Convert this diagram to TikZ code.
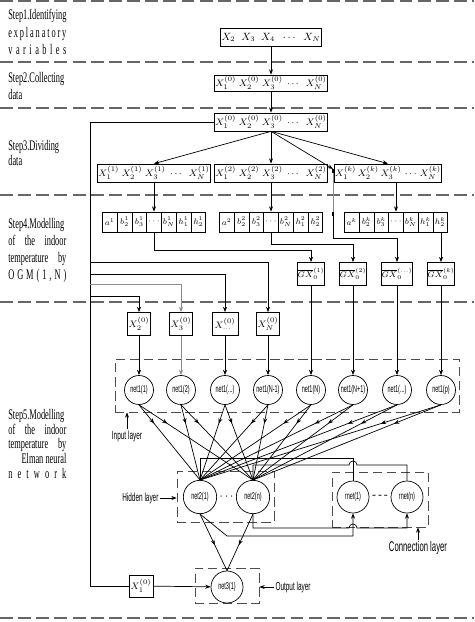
\documentclass[tikz,border=0pt]{standalone}
\usepackage{fontspec}
\setmainfont{Liberation Serif}
\newfontfamily\stepfont[FakeStretch=0.57]{Liberation Serif}
\newfontfamily\netfont[FakeStretch=0.55]{Liberation Sans}
\usepackage{tikz}
\usetikzlibrary{arrows.meta, positioning, shapes.multipart, decorations.markings, calc}

\newcommand{\spreadline}[1]{\makebox[1.74cm][s]{#1}}
\newcommand{\cellentry}[1]{\makebox[9pt]{$#1$}}

\begin{document}
\begin{tikzpicture}[
    x=0.03cm, y=-0.03cm, line width=0.6pt,
    divider/.style={line width=1.3pt, black!60, dash pattern=on 11pt off 4.5pt},
    steplabel/.style={anchor=north west, inner sep=0pt, align=left, font=\stepfont\fontsize{12.5}{14.5}\selectfont},
    databox/.style={rectangle, draw, minimum width=3.03cm, minimum height=0.54cm, inner sep=1pt, font=\footnotesize},
    cellbox/.style={rectangle split, rectangle split horizontal, rectangle split parts=7, draw, minimum height=0.6cm, inner xsep=1.5pt, inner ysep=1pt, font=\scriptsize},
    gxbox/.style={rectangle, draw, minimum width=0.68cm, minimum height=0.69cm, inner sep=0pt, font=\scriptsize},
    xbox/.style={rectangle, draw, minimum width=0.7cm, minimum height=0.69cm, inner sep=0pt, font=\footnotesize},
    dotmark/.style={rectangle, fill=black, minimum width=0.07cm, minimum height=0.1cm, inner sep=0pt},
    neuron/.style={circle, draw, minimum size=0.87cm, inner sep=0pt, font=\netfont\fontsize{8.5}{9}\selectfont},
    layer/.style={rectangle, draw=black!70, dash pattern=on 8pt off 4pt},
    layerlabel/.style={font=\netfont\fontsize{10}{10}\selectfont, inner sep=1pt},
    arrow/.style={-{Stealth[length=1.6mm, width=1.2mm]}},
    midarrow/.style={postaction={decorate}, decoration={markings, mark=at position #1 with {\arrow{Stealth[length=1.6mm, width=1.2mm]}}}},
    faint/.style={black!45}
]
\useasboundingbox (0,0) rectangle (474,622);

% Step dividers
\draw[divider, line width=2pt] (0,1) -- (474,1);
\draw[divider] (0,62) -- (474,62);
\draw[divider] (0,108) -- (474,108);
\draw[divider] (0,195) -- (474,195);
\draw[divider] (0,302) -- (474,302);
\draw[divider] (0,618) -- (474,618);

% Step labels
\node[steplabel, font=\stepfont\fontsize{12.5}{15}\selectfont] (step1) at (8,9) {Step1.Identifying\\ \spreadline{e x p l a n a t o r y}\\ \spreadline{v a r i a b l e s}};
\node[steplabel] (step2) at (8,72) {Step2.Collecting\\data};
\node[steplabel, font=\stepfont\fontsize{12.5}{13}\selectfont] (step3) at (8,140) {Step3.Dividing\\data};
\node[steplabel] (step4) at (8,218) {Step4.Modelling\\ \spreadline{of the indoor}\\ \spreadline{temperature by}\\ \spreadline{O G M ( 1 , N )}};
\node[steplabel, font=\stepfont\fontsize{12.5}{12.5}\selectfont] (step5) at (8,409) {Step5.Modelling\\ \spreadline{of the indoor}\\ \spreadline{temperature by}\\ \makebox[1.74cm][r]{Elman neural}\\ \spreadline{n e t w o r k}};

% Data boxes
\node[databox, font=\small] (vars) at (271,37) {$X_2\;\;X_3\;\;X_4\;\;\cdots\;\;X_N$};
\node[databox, minimum height=0.36cm] (raw) at (271,83) {$X_1^{(0)}\;X_2^{(0)}\;X_3^{(0)}\;\cdots\;\;X_N^{(0)}$};
\node[databox] (all) at (271,122) {$X_1^{(0)}\;X_2^{(0)}\;X_3^{(0)}\;\cdots\;\;X_N^{(0)}$};
\node[databox] (part1) at (154,173) {$X_1^{(1)}\;X_2^{(1)}\;X_3^{(1)}\;\cdots\;\;X_N^{(1)}$};
\node[databox] (part2) at (271,173) {$X_1^{(2)}\;X_2^{(2)}\;X_3^{(2)}\;\cdots\;\;X_N^{(2)}$};
\node[dotmark] (partdot) at (333,171) {};
\node[databox, minimum width=2.58cm, inner sep=0.5pt] (partk) at (388,173) {$X_1^{(k)}\,X_2^{(k)}\,X_3^{(k)}\,\cdots\,X_N^{(k)}$};

\draw[arrow] (vars) -- (raw);
\draw[arrow] (raw) -- (all);
\draw[arrow] (all.south) -- (part1.north);
\draw[arrow] (all.south) -- (part2.north);
\draw[arrow] (all.south) -- (partdot.north);
\draw[arrow] (all.south) -- (partk.north);

% OGM(1,N) models
\node[cellbox] (ogm1) at (154,222) {\cellentry{a^1}\nodepart{two}\cellentry{b_2^1}\nodepart{three}\cellentry{b_3^1}\nodepart{four}\cellentry{\cdots}\nodepart{five}\cellentry{b_N^1}\nodepart{six}\cellentry{h_1^1}\nodepart{seven}\cellentry{h_2^1}};
\node[cellbox] (ogm2) at (271,222) {\cellentry{a^2}\nodepart{two}\cellentry{b_2^2}\nodepart{three}\cellentry{b_3^2}\nodepart{four}\cellentry{\cdots}\nodepart{five}\cellentry{b_N^2}\nodepart{six}\cellentry{h_1^2}\nodepart{seven}\cellentry{h_2^2}};
\node[dotmark] (ogmdot) at (333,214) {};
\node[cellbox] (ogmk) at (396,222) {\cellentry{a^k}\nodepart{two}\cellentry{b_2^k}\nodepart{three}\cellentry{b_3^k}\nodepart{four}\cellentry{\cdots}\nodepart{five}\cellentry{b_N^k}\nodepart{six}\cellentry{h_1^k}\nodepart{seven}\cellentry{h_2^k}};

\draw[arrow] (part1) -- (ogm1);
\draw[arrow] (part2) -- (ogm2);
\draw[faint] (partdot) -- (ogmdot);
\draw[arrow] (partk.south -| ogmk.north) -- (ogmk.north);

% Simulated series
\node[gxbox] (gx1) at (311,274) {$\overline{GX}_0^{(1)}$};
\node[gxbox] (gx2) at (353,274) {$\overline{GX}_0^{(2)}$};
\node[gxbox] (gx3) at (397,274) {$\overline{GX}_0^{(\ldots)}$};
\node[gxbox] (gx4) at (441,274) {$\overline{GX}_0^{(k)}$};

\coordinate (row1) at (0,250);
\coordinate (row2) at (0,244);
\coordinate (row3) at (0,238);
\draw[arrow] (ogm1.south) -- (ogm1.south |- row1) -| (gx1.north);
\draw[arrow] (ogm2.south) -- (ogm2.south |- row2) -| (gx2.north);
\draw[arrow] (ogmdot.south) -- (ogmdot.south |- row3) -| (gx3.north);
\draw[arrow] (gx4.north |- ogmk.south) -- (gx4.north);

% Explanatory inputs
\node[xbox] (in2) at (139,324) {$X_2^{(0)}$};
\node[xbox] (in3) at (181,324) {$X_3^{(0)}$};
\node[xbox, minimum width=0.78cm] (indots) at (225,324) {$X_{\cdots}^{(0)}$};
\node[xbox] (inN) at (268,324) {$X_N^{(0)}$};
\node[xbox, minimum width=0.72cm, minimum height=0.66cm] (lag) at (141,586) {$X_1^{(0)}$};

\coordinate (trunk) at (90,0);
\coordinate (tap1) at (90,262);
\coordinate (tap2) at (90,274);
\coordinate (tap3) at (90,284);
\coordinate (tap4) at (90,296);
\draw (all.west) -| (trunk |- lag.west) -- (lag.west);
\draw[arrow] (tap1) -| (inN.north);
\draw[arrow] (tap2) -| (indots.north);
\draw[arrow, faint] (tap3) -| (in3.north);
\draw[arrow] (tap4) -| (in2.north);

% Input layer
\node[layer, minimum width=10.32cm, minimum height=1.59cm] (inlayer) at (287,385.5) {};
\node[neuron] (n1a) at (139,390) {net1(1)};
\node[neuron] (n1b) at (181,390) {net1(2)};
\node[neuron] (n1c) at (225,390) {net1(...)};
\node[neuron] (n1d) at (268,390) {net1(N-1)};
\node[neuron] (n1e) at (311,390) {net1(N)};
\node[neuron] (n1f) at (353,390) {net1(N+1)};
\node[neuron] (n1g) at (397,390) {net1(...)};
\node[neuron] (n1h) at (441,390) {net1(p)};
\node[layerlabel] (inlabel) at (127,436) {Input layer};
\draw[arrow] (inlabel.north) -- (inlabel.north |- inlayer.south);

\draw[arrow] (in2) -- (n1a);
\draw[arrow, faint] (in3) -- (n1b);
\draw[arrow] (indots) -- (n1c);
\draw[arrow] (inN) -- (n1d);
\draw[arrow] (gx1) -- (n1e);
\draw[arrow] (gx2) -- (n1f);
\draw[arrow] (gx3) -- (n1g);
\draw[arrow] (gx4) -- (n1h);

% Hidden layer
\node[layer, minimum width=2.91cm, minimum height=1.53cm] (hidlayer) at (225.5,496.5) {};
\node[neuron, minimum size=1cm] (n2a) at (200,497) {net2(1)};
\node[neuron, minimum size=1cm] (n2b) at (253,497) {net2(n)};
\node (hiddots) at (226.5,497) {$\cdots$};
\node[layerlabel, anchor=east] (hidlabel) at (160,498) {Hidden layer};
\draw[arrow] (hidlabel.east) -- (hidlabel.east -| hidlayer.west);

\draw[midarrow=0.25] (n1a.south) -- (n2a.north); \draw[midarrow=0.25] (n1a.south) -- (n2b.north);
\draw[midarrow=0.25] (n1b.south) -- (n2a.north); \draw[midarrow=0.25] (n1b.south) -- (n2b.north);
\draw[midarrow=0.25] (n1c.south) -- (n2a.north); \draw[midarrow=0.25] (n1c.south) -- (n2b.north);
\draw[midarrow=0.25] (n1d.south) -- (n2a.north); \draw[midarrow=0.25] (n1d.south) -- (n2b.north);
\draw[midarrow=0.25] (n1e.south) -- (n2a.north); \draw[midarrow=0.25] (n1e.south) -- (n2b.north);
\draw[midarrow=0.25] (n1f.south) -- (n2a.north); \draw[midarrow=0.25] (n1f.south) -- (n2b.north);
\draw[midarrow=0.25] (n1g.south) -- (n2a.north); \draw[midarrow=0.25] (n1g.south) -- (n2b.north);
\draw[midarrow=0.25] (n1h.south) -- (n2a.north); \draw[midarrow=0.25] (n1h.south) -- (n2b.north);

% Output layer
\node[layer, minimum width=1.92cm, minimum height=1.05cm] (outlayer) at (227,585.5) {};
\node[neuron, minimum size=0.96cm] (n3) at (227,587) {net3(1)};
\node[layerlabel, anchor=west] (outlabel) at (274,587) {Output layer};
\draw[arrow] (outlabel.west) -- (outlabel.west -| outlayer.east);

\draw[midarrow=0.55] (n2a.south) -- (n3.north);
\draw[midarrow=0.55] (n2b.south) -- (n3.north);
\draw[arrow] (lag) -- (n3);

% Connection layer
\node[layer, minimum width=2.88cm, minimum height=1.65cm] (conlayer) at (380,499.5) {};
\node[neuron, minimum size=0.96cm] (r1) at (353,497) {rnet(1)};
\node[neuron, minimum size=0.96cm] (rn) at (407,497) {rnet(n)};
\node (condots) at (380,497) {-\,-\,-};
\node[layerlabel, font=\netfont\fontsize{12}{12}\selectfont] (conlabel) at (418,548) {Connection layer};
\draw[arrow] (conlabel.north) -- (conlabel.north |- conlayer.south);

\coordinate (loopa) at (0,458);
\coordinate (loopb) at (0,465);
\coordinate (loopc) at (0,528);
\coordinate (loopd) at (0,536);
\draw (n2a.north) -- (n2a.north |- loopa) -| (r1.north);
\draw (n2b.north) -- (n2b.north |- loopb) -- ($(r1.north |- loopb)+(-4,0)$) arc (180:360:4) -| (rn.north);
\draw[arrow] (n2a.south) -- (n3.north |- loopd) -| (r1.south);
\draw[arrow] (n2b.south) -- (n2b.south |- loopc) -- ($(r1.south |- loopc)+(-4,0)$) arc (180:360:4) -| (rn.south);

\end{tikzpicture}
\end{document}
